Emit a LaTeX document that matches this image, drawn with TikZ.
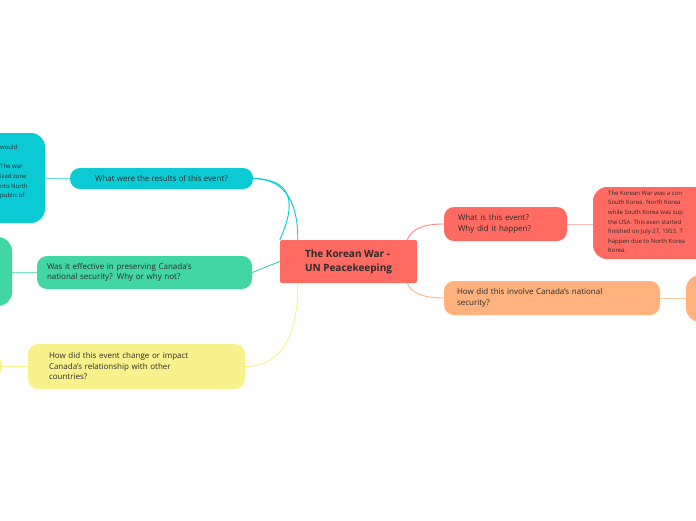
\documentclass[tikz,border=0pt]{standalone}
\usepackage{fontspec}
\setmainfont{Open Sans}
\definecolor{cred}{HTML}{FF6B63}
\definecolor{ccyan}{HTML}{0BCAD4}
\definecolor{cgreen}{HTML}{42D6A4}
\definecolor{cyel}{HTML}{F8F28C}
\definecolor{corange}{HTML}{FFB27D}
\definecolor{txt}{HTML}{2B2B2B}
\begin{document}
\begin{tikzpicture}[x=1pt,y=-1pt,
  q/.style={rounded corners=10pt,inner sep=0,text=txt,font=\fontsize{8}{10.5}\selectfont,align=left},
  det/.style={rounded corners=14pt,inner sep=0},
  con/.style={line width=0.9pt}]
\useasboundingbox (0,0) rectangle (696,520);
\fill[white] (0,0) rectangle (696,520);
% boxes
\node[fill=cred,rounded corners=2pt,minimum width=137,minimum height=43,font=\bfseries\fontsize{10}{14}\selectfont,text=txt,align=left] (c) at (348.5,261.5) {The Korean War -\\UN Peacekeeping};
\node[q,fill=ccyan,minimum width=183,minimum height=21] (q1) at (161.5,178.5) {What were the results of this event?};
\node[q,fill=cgreen,minimum width=215,minimum height=33,text width=195] (q2) at (144.5,272.5) {Was it effective in preserving Canada's\\national security? Why or why not?};
\node[q,fill=cyel,minimum width=217,minimum height=45,text width=175] (q3) at (136.5,366.5) {How did this event change or impact\\Canada's relationship with other\\countries?};
\node[q,fill=cred,minimum width=123,minimum height=34,text width=95] (q4) at (505.5,224) {What is this event?\\Why did it happen?};
\node[q,fill=corange,minimum width=216,minimum height=34,text width=190] (q5) at (552,298) {How did this involve Canada's national\\security?};
% details
\path[det,fill=ccyan] (-30,133) rectangle (45,223);
\coordinate (d1) at (45,178.5);
\path[det,fill=cgreen] (-30,237) rectangle (12,306);
\coordinate (d2) at (12,272.5);
\path[rounded corners=10pt,fill=cyel] (-30,355) rectangle (2,377);
\coordinate (d3) at (2,366.5);
\path[det,fill=cred] (593,187) rectangle (740,259);
\coordinate (d4) at (593,224);
\path[det,fill=corange] (686,275) rectangle (740,322);
\coordinate (d5) at (686,298);
\node[anchor=north west,inner sep=0,font=\fontsize{6}{9.6}\selectfont,text=txt,align=left] at (0,145) {would\\[9.6pt]The war\\ized zone\\nto North\\public of};
\node[anchor=north west,inner sep=0,font=\fontsize{6}{9.6}\selectfont,text=txt,align=left] (dt4) at (608,190.5) {The Korean War was a con\\South Korea. North Korea\\while South Korea was sup\\the USA. This even started\\finished on July 27, 1953. T\\happen due to North Korea\\Korea.};
% connectors
\draw[con,ccyan] (q1.east) .. controls (290,179) and (298,200) .. (c.north west) ++(18,0);
\draw[con,ccyan] (q1.east) .. controls (290,179) and (298,210) .. ([xshift=18]c.north west);
\draw[con,cgreen] (q2.east) -- (c.west);
\draw[con,cyel] (q3.east) .. controls (290,366) and (298,320) .. ([xshift=18]c.south west);
\draw[con,cred!80] ([xshift=-10]c.north east) .. controls (412,228) and (425,224) .. (q4.west);
\draw[con,corange] ([xshift=-10]c.south east) .. controls (412,294) and (425,298) .. (q5.west);
\draw[con,ccyan!60] (q1.west) -- (d1);
\draw[con,cgreen!70] (q2.west) -- (d2);
\draw[con,cyel] (q3.west) -- (d3);
\draw[con,cred!50] (q4.east) -- (d4);
\draw[con,corange!70] (q5.east) -- (d5);
\end{tikzpicture}
\end{document}
